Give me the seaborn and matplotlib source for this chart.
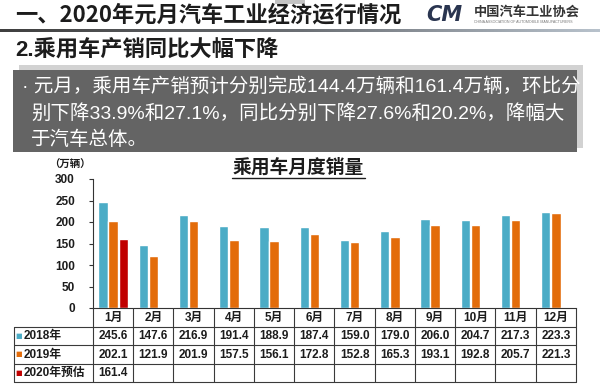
import numpy as np
import pandas as pd
import matplotlib
matplotlib.use("Agg")
import matplotlib.pyplot as plt
from matplotlib.patches import Rectangle
from matplotlib.colors import LinearSegmentedColormap
import seaborn as sns

# ---------------- data ----------------
months = ["1月", "2月", "3月", "4月", "5月", "6月", "7月", "8月", "9月", "10月", "11月", "12月"]
sales_2018 = [245.6, 147.6, 216.9, 191.4, 188.9, 187.4, 159.0, 179.0, 206.0, 204.7, 217.3, 223.3]
sales_2019 = [202.1, 121.9, 201.9, 157.5, 156.1, 172.8, 152.8, 165.3, 193.1, 192.8, 205.7, 221.3]
sales_2020 = [161.4]
series_names = ["2018年", "2019年", "2020年预估"]
series_colors = ["#4BACC6", "#E36C0A", "#C00000"]
yticks = [0, 50, 100, 150, 200, 250, 300]

title_main = "一、2020年元月汽车工业经济运行情况"
subtitle = "2.乘用车产销同比大幅下降"
box_lines = ["· 元月，乘用车产销预计分别完成144.4万辆和161.4万辆，环比分",
             "别下降33.9%和27.1%，同比分别下降27.6%和20.2%，降幅大",
             "于汽车总体。"]
chart_title = "乘用车月度销量"
unit_label = "（万辆）"

rows = []
for m, v in zip(months, sales_2018):
    rows.append((m, series_names[0], v))
for m, v in zip(months, sales_2019):
    rows.append((m, series_names[1], v))
for m, v in zip(months, sales_2020):
    rows.append((m, series_names[2], v))
df = pd.DataFrame(rows, columns=["month", "year", "value"])

# ---------------- style ----------------
sns.set_theme(style="white")
plt.rcParams["font.family"] = ["Liberation Sans", "Noto Sans CJK SC", "DejaVu Sans"]
plt.rcParams["axes.unicode_minus"] = False

W, H = 600, 390
fig = plt.figure(figsize=(6, 3.9), dpi=100)
fig.patch.set_facecolor("white")

# background / decoration axes in pixel coordinates
bg = fig.add_axes([0, 0, 1, 1], zorder=0)
bg.axis("off")

bg.add_patch(Rectangle((275, 0), 30, 4, color="#c4c4c4", lw=0))
bg.text(15, 15, title_main, fontsize=16, fontweight="bold", color="#1c1c1c",
        va="center", ha="left", family=["Noto Sans CJK SC", "DejaVu Sans"])
# logo
bg.text(426, 15, "CM", fontsize=15, fontweight="bold", fontstyle="italic",
        color="#2a3550", va="center", ha="left", family=["DejaVu Sans"])
bg.text(474, 12, "中国汽车工业协会", fontsize=9.5, fontweight="bold", color="#333333",
        va="center", ha="left", family=["Noto Sans CJK SC"])
bg.text(474, 22, "CHINA ASSOCIATION OF AUTOMOBILE MANUFACTURERS", fontsize=2.6,
        color="#777777", va="center", ha="left")
# gradient rule
grad = np.linspace(0, 1, 256)[None, :]
cmap = LinearSegmentedColormap.from_list("g", ["#3f3f3f", "#6b6f74", "#b8c2cc"])
bg.imshow(grad, extent=[0, W, 32.5, 30], aspect="auto", cmap=cmap, zorder=1)
bg.set_xlim(0, W)
bg.set_ylim(H, 0)

bg.text(15, 51, subtitle, fontsize=16, fontweight="bold", color="#1c1c1c",
        va="center", ha="left", family=["Liberation Sans", "Noto Sans CJK SC"])

# grey text box with shadow
bg.add_patch(Rectangle((19, 65), 564, 83, color="#d2d2d2", lw=0, zorder=1))
bg.add_patch(Rectangle((13, 70), 564, 82, color="#646464", lw=0, zorder=2))
for i, line in enumerate(box_lines):
    x0 = 22 if i == 0 else 31
    bg.text(x0, 87 + i * 26.5, line, fontsize=14, color="white", va="center",
            ha="left", zorder=3)

# chart title + unit
bg.text(298, 167, chart_title, fontsize=13.5, fontweight="bold", color="#1c1c1c",
        va="center", ha="center", family=["Noto Sans CJK SC"])
bg.plot([232, 365], [178, 178], color="#1c1c1c", lw=1.0)
bg.text(70, 165, unit_label, fontsize=7.5, fontweight="bold", color="#1c1c1c",
        va="center", ha="center", family=["Noto Sans CJK SC"])

# ---------------- bar chart ----------------
ax_l, ax_r, ax_t, ax_b = 93, 576, 179, 308
ax = fig.add_axes([ax_l / W, 1 - ax_b / H, (ax_r - ax_l) / W, (ax_b - ax_t) / H], zorder=2)
ax.patch.set_alpha(0)
sns.barplot(data=df, x="month", y="value", hue="year", order=months,
            hue_order=series_names, palette=series_colors, width=0.75, gap=0.08,
            saturation=1, errorbar=None, legend=False, ax=ax)
ax.set_xlim(-0.5, len(months) - 0.5)
ax.set_ylim(0, 300)
ax.set_yticks(yticks)
ax.set_yticklabels([str(t) for t in yticks], fontsize=8.5, fontweight="bold", color="#1c1c1c")
ax.set_xticks([])
ax.set_xlabel("")
ax.set_ylabel("")
for s in ["top", "right"]:
    ax.spines[s].set_visible(False)
for s in ["left", "bottom"]:
    ax.spines[s].set_color("#333333")
    ax.spines[s].set_linewidth(0.8)
ax.tick_params(axis="y", which="both", left=True, length=3, width=0.8, color="#333333", pad=10)
ax.grid(False)

# ---------------- data table ----------------
tb_l, tb_t, tb_b = 14, 308, 382
unit_px = (ax_r - ax_l) / len(months)
x_left = -0.5 - (ax_l - tb_l) / unit_px
axt = fig.add_axes([tb_l / W, 1 - tb_b / H, (ax_r - tb_l) / W, (tb_b - tb_t) / H], zorder=3)
axt.set_xlim(x_left, len(months) - 0.5)
axt.set_ylim(4, 0)
axt.axis("off")

lc = "#3a3a3a"
lw = 0.8
for r in range(1, 5):
    axt.plot([x_left, len(months) - 0.5], [r, r], color=lc, lw=lw, clip_on=False)
axt.plot([x_left, x_left], [1, 4], color=lc, lw=lw, clip_on=False)
for k in range(len(months) + 1):
    axt.plot([k - 0.5, k - 0.5], [0, 4], color=lc, lw=lw, clip_on=False)

for i, m in enumerate(months):
    axt.text(i, 0.52, m, ha="center", va="center", fontsize=8.5, fontweight="bold", color="#1c1c1c")
for r, vals in enumerate([sales_2018, sales_2019, sales_2020]):
    for i, v in enumerate(vals):
        axt.text(i, r + 1.52, f"{v:.1f}", ha="center", va="center", fontsize=8.5,
                 fontweight="bold", color="#1c1c1c")
    axt.text(x_left + 0.04, r + 1.5, "■", ha="left", va="center", fontsize=5,
             color=series_colors[r], family=["DejaVu Sans"])
    axt.text(x_left + 0.24, r + 1.52, series_names[r], ha="left", va="center", fontsize=8.5,
             fontweight="bold", color="#1c1c1c")

fig.savefig("out.png", dpi=100)
